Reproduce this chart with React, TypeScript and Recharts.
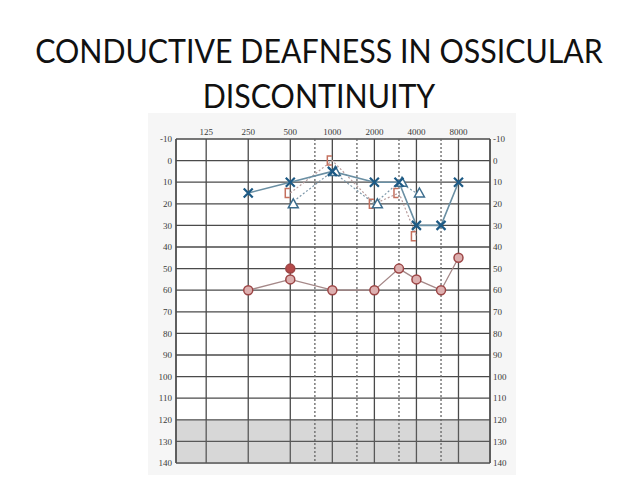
import { ComposedChart, Line, XAxis, YAxis, CartesianGrid, ReferenceLine, ReferenceArea } from 'recharts';

// frequencies (Hz) and hearing levels (dB)
const freqs = [250, 500, 1000, 2000, 3000, 4000, 6000, 8000];
const airRight = [60, 55, 60, 60, 50, 55, 60, 45];
const airLeft = [15, 10, 5, 10, 10, 30, 30, 10];

const boneFreqs = [500, 1000, 2000, 3000, 4000];
const boneTriangle = [20, 5, 20, 10, 15];
const boneBracket = [15, 0, 20, 15, 35];

const extraFreqs = [500];
const extraRight = [50];

const topTicks = [125, 250, 500, 1000, 2000, 4000, 8000];
const dottedFreqs = [750, 1500, 3000, 6000];
const dbTicks = [-10, 0, 10, 20, 30, 40, 50, 60, 70, 80, 90, 100, 110, 120, 130, 140];

const titleLines = ['CONDUCTIVE DEAFNESS IN OSSICULAR', 'DISCONTINUITY'];

const zip = (fs: number[], vs: number[]) => fs.map((f, i) => ({ f, db: vs[i] }));

const circleData = zip(freqs, airRight);
const crossData = zip(freqs, airLeft);
const triData = zip(boneFreqs, boneTriangle);
const bracketData = zip(boneFreqs, boneBracket);
const extraData = zip(extraFreqs, extraRight);

const tickStyle = { fontFamily: '"Liberation Serif", serif', fontSize: 9, fill: '#3a3a3a' };

const Cross = (p: any) => (
  <path
    key={`x-${p.index}`}
    d={`M${p.cx - 4.5},${p.cy - 4.5}L${p.cx + 4.5},${p.cy + 4.5}M${p.cx + 4.5},${p.cy - 4.5}L${p.cx - 4.5},${p.cy + 4.5}`}
    stroke="#1d5a85"
    strokeWidth={2.2}
    fill="none"
  />
);

const Tri = (p: any) => {
  const x = p.cx + 3;
  return (
    <path
      key={`t-${p.index}`}
      d={`M${x},${p.cy - 5}L${x + 5},${p.cy + 4}L${x - 5},${p.cy + 4}Z`}
      stroke="#3d6e8e"
      strokeWidth={1.5}
      fill="#fff"
    />
  );
};

const Bracket = (p: any) => {
  const x = p.cx - 3;
  return (
    <path
      key={`b-${p.index}`}
      d={`M${x + 2.5},${p.cy - 4.5}H${x - 2}V${p.cy + 4.5}H${x + 2.5}`}
      stroke="#c4705e"
      strokeWidth={1.5}
      fill="none"
    />
  );
};

const Circle = (p: any) => (
  <circle key={`c-${p.index}`} cx={p.cx} cy={p.cy} r={4.5} stroke="#9c4545" strokeWidth={1.5} fill="#ddb0b0" />
);

const FilledCircle = (p: any) => (
  <circle key={`f-${p.index}`} cx={p.cx} cy={p.cy} r={4.5} stroke="#9c4545" strokeWidth={1.5} fill="#b54a4a" />
);

export default function App() {
  return (
    <div style={{ position: 'absolute', left: 0, top: 0, width: 638, height: 479, background: '#fff', overflow: 'hidden' }}>
      <svg width={638} height={118} style={{ position: 'absolute', left: 0, top: 0 }}>
        <g transform="translate(319,0) scale(0.92,1)">
          {titleLines.map((t, i) => (
            <text
              key={t}
              x={0}
              y={63 + i * 45}
              textAnchor="middle"
              style={{ fontFamily: 'Lato, "Open Sans", sans-serif', fontSize: 33, fill: '#111' }}
            >
              {t}
            </text>
          ))}
        </g>
      </svg>
      <div style={{ position: 'absolute', left: 148, top: 113, width: 368, height: 362, background: '#f6f6f6' }} />
      <div style={{ position: 'absolute', left: 0, top: 0 }}>
        <ComposedChart width={638} height={479} margin={{ top: 119, right: 108, bottom: 16, left: 136 }}>
          <CartesianGrid yAxisId="l" stroke="#4a4a4a" strokeWidth={1.3} fill="#fff" horizontalValues={dbTicks} />
          <ReferenceArea yAxisId="l" y1={120} y2={140} fill="#7a7a7a" fillOpacity={0.3} stroke="none" />
          {dottedFreqs.map((f) => (
            <ReferenceLine key={f} yAxisId="l" x={f} stroke="#666" strokeWidth={1.3} strokeDasharray="2 2" />
          ))}
          <XAxis
            dataKey="f"
            type="number"
            scale="log"
            domain={[76, 13450]}
            ticks={topTicks}
            orientation="top"
            allowDataOverflow
            axisLine={false}
            tickLine={false}
            tickSize={0}
            tickMargin={4}
            height={20}
            tick={tickStyle}
            interval={0}
          />
          <YAxis
            yAxisId="l"
            type="number"
            domain={[-10, 140]}
            reversed
            ticks={dbTicks}
            interval={0}
            width={40}
            tickSize={0}
            tickMargin={4}
            tickLine={false}
            axisLine={{ stroke: '#4a4a4a', strokeWidth: 1.3 }}
            tick={tickStyle}
            allowDataOverflow
          />
          <YAxis
            yAxisId="r"
            orientation="right"
            type="number"
            domain={[-10, 140]}
            reversed
            ticks={dbTicks}
            interval={0}
            width={40}
            tickSize={0}
            tickMargin={3}
            tickLine={false}
            axisLine={{ stroke: '#4a4a4a', strokeWidth: 1.3 }}
            tick={{ ...tickStyle, textAnchor: 'start' }}
            allowDataOverflow
          />
          <Line yAxisId="l" data={circleData} dataKey="db" stroke="#a58888" strokeWidth={1.3} dot={Circle} isAnimationActive={false} />
          <Line yAxisId="l" data={extraData} dataKey="db" stroke="none" dot={FilledCircle} isAnimationActive={false} />
          <Line yAxisId="l" data={bracketData} dataKey="db" stroke="#b89c9c" strokeWidth={1.2} strokeDasharray="2 2" dot={Bracket} isAnimationActive={false} />
          <Line yAxisId="l" data={triData} dataKey="db" stroke="#7d98aa" strokeWidth={1.2} strokeDasharray="2 2" dot={Tri} isAnimationActive={false} />
          <Line yAxisId="l" data={crossData} dataKey="db" stroke="#6a8fa3" strokeWidth={1.6} dot={Cross} isAnimationActive={false} />
        </ComposedChart>
      </div>
    </div>
  );
}
